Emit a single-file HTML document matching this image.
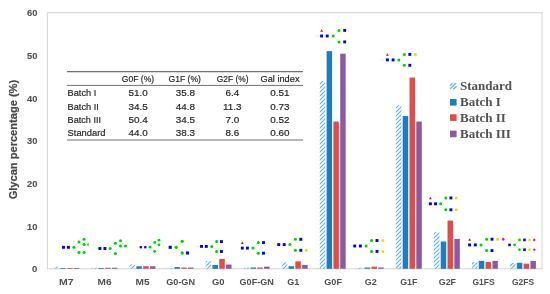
<!DOCTYPE html><html><head><meta charset="utf-8"><style>html,body{margin:0;padding:0;background:#fff;}svg{display:block;}</style></head><body>
<svg width="550" height="294" viewBox="0 0 550 294">
<defs><pattern id="h" patternUnits="userSpaceOnUse" width="4.0" height="4.0"><path d="M-1,1 L1,-1 M0,4.0 L4.0,0 M3.0,5.0 L5.0,3.0" stroke="#5db3ea" stroke-width="1.15"/></pattern><clipPath id="lc"><rect x="450" y="83" width="6.6" height="6.6"/></clipPath></defs>
<rect width="550" height="294" fill="#fff"/>
<rect x="47.4" y="12.7" width="494.6" height="256.1" fill="none" stroke="#d2d2d2" stroke-width="1"/>
<text x="37.4" y="272.2" text-anchor="end" font-family="Liberation Sans" font-weight="bold" font-size="9.8" fill="#505050" stroke="#505050" stroke-width="0.1" textLength="5.3" lengthAdjust="spacingAndGlyphs">0</text>
<text x="37.4" y="229.5" text-anchor="end" font-family="Liberation Sans" font-weight="bold" font-size="9.8" fill="#505050" stroke="#505050" stroke-width="0.1" textLength="10.4" lengthAdjust="spacingAndGlyphs">10</text>
<text x="37.4" y="186.8" text-anchor="end" font-family="Liberation Sans" font-weight="bold" font-size="9.8" fill="#505050" stroke="#505050" stroke-width="0.1" textLength="10.4" lengthAdjust="spacingAndGlyphs">20</text>
<text x="37.4" y="144.2" text-anchor="end" font-family="Liberation Sans" font-weight="bold" font-size="9.8" fill="#505050" stroke="#505050" stroke-width="0.1" textLength="10.4" lengthAdjust="spacingAndGlyphs">30</text>
<text x="37.4" y="101.5" text-anchor="end" font-family="Liberation Sans" font-weight="bold" font-size="9.8" fill="#505050" stroke="#505050" stroke-width="0.1" textLength="10.4" lengthAdjust="spacingAndGlyphs">40</text>
<text x="37.4" y="58.8" text-anchor="end" font-family="Liberation Sans" font-weight="bold" font-size="9.8" fill="#505050" stroke="#505050" stroke-width="0.1" textLength="10.4" lengthAdjust="spacingAndGlyphs">50</text>
<text x="37.4" y="16.1" text-anchor="end" font-family="Liberation Sans" font-weight="bold" font-size="9.8" fill="#505050" stroke="#505050" stroke-width="0.1" textLength="10.4" lengthAdjust="spacingAndGlyphs">60</text>
<text transform="translate(16.6,139.6) rotate(-90)" text-anchor="middle" font-family="Liberation Sans" font-weight="bold" font-size="11" fill="#474747" stroke="#474747" stroke-width="0.2" textLength="119.5" lengthAdjust="spacingAndGlyphs">Glycan percentage (%)</text>
<rect x="53.47" y="266.67" width="5.5" height="2.13" fill="url(#h)"/>
<rect x="60.27" y="268.03" width="5.5" height="0.77" fill="#217bbf"/>
<rect x="67.07" y="268.03" width="5.5" height="0.77" fill="#e04b4b"/>
<rect x="73.87" y="268.03" width="5.5" height="0.77" fill="#885ca4"/>
<rect x="91.52" y="267.73" width="5.5" height="1.07" fill="url(#h)"/>
<rect x="98.32" y="267.95" width="5.5" height="0.85" fill="#217bbf"/>
<rect x="105.12" y="267.73" width="5.5" height="1.07" fill="#e04b4b"/>
<rect x="111.92" y="267.73" width="5.5" height="1.07" fill="#885ca4"/>
<rect x="129.57" y="264.53" width="5.5" height="4.27" fill="url(#h)"/>
<rect x="136.37" y="266.24" width="5.5" height="2.56" fill="#217bbf"/>
<rect x="143.17" y="266.24" width="5.5" height="2.56" fill="#e04b4b"/>
<rect x="149.97" y="266.24" width="5.5" height="2.56" fill="#885ca4"/>
<rect x="167.61" y="268.16" width="5.5" height="0.64" fill="url(#h)"/>
<rect x="174.41" y="267.09" width="5.5" height="1.71" fill="#217bbf"/>
<rect x="181.21" y="267.52" width="5.5" height="1.28" fill="#e04b4b"/>
<rect x="188.01" y="267.52" width="5.5" height="1.28" fill="#885ca4"/>
<rect x="205.66" y="260.90" width="5.5" height="7.90" fill="url(#h)"/>
<rect x="212.46" y="264.96" width="5.5" height="3.84" fill="#217bbf"/>
<rect x="219.26" y="258.98" width="5.5" height="9.82" fill="#e04b4b"/>
<rect x="226.06" y="264.53" width="5.5" height="4.27" fill="#885ca4"/>
<rect x="243.70" y="267.52" width="5.5" height="1.28" fill="url(#h)"/>
<rect x="250.50" y="267.52" width="5.5" height="1.28" fill="#217bbf"/>
<rect x="257.30" y="267.52" width="5.5" height="1.28" fill="#e04b4b"/>
<rect x="264.10" y="266.67" width="5.5" height="2.13" fill="#885ca4"/>
<rect x="281.75" y="262.40" width="5.5" height="6.40" fill="url(#h)"/>
<rect x="288.55" y="266.24" width="5.5" height="2.56" fill="#217bbf"/>
<rect x="295.35" y="261.33" width="5.5" height="7.47" fill="#e04b4b"/>
<rect x="302.15" y="264.96" width="5.5" height="3.84" fill="#885ca4"/>
<rect x="319.80" y="80.99" width="5.5" height="187.81" fill="url(#h)"/>
<rect x="326.60" y="51.12" width="5.5" height="217.69" fill="#217bbf"/>
<rect x="333.40" y="121.54" width="5.5" height="147.26" fill="#e04b4b"/>
<rect x="340.20" y="53.68" width="5.5" height="215.12" fill="#885ca4"/>
<rect x="357.84" y="267.52" width="5.5" height="1.28" fill="url(#h)"/>
<rect x="364.64" y="267.52" width="5.5" height="1.28" fill="#217bbf"/>
<rect x="371.44" y="266.67" width="5.5" height="2.13" fill="#e04b4b"/>
<rect x="378.24" y="267.52" width="5.5" height="1.28" fill="#885ca4"/>
<rect x="395.89" y="105.32" width="5.5" height="163.48" fill="url(#h)"/>
<rect x="402.69" y="115.99" width="5.5" height="152.81" fill="#217bbf"/>
<rect x="409.49" y="77.58" width="5.5" height="191.22" fill="#e04b4b"/>
<rect x="416.29" y="121.54" width="5.5" height="147.26" fill="#885ca4"/>
<rect x="433.93" y="232.09" width="5.5" height="36.71" fill="url(#h)"/>
<rect x="440.73" y="241.48" width="5.5" height="27.32" fill="#217bbf"/>
<rect x="447.53" y="220.57" width="5.5" height="48.23" fill="#e04b4b"/>
<rect x="454.33" y="238.92" width="5.5" height="29.88" fill="#885ca4"/>
<rect x="471.98" y="261.97" width="5.5" height="6.83" fill="url(#h)"/>
<rect x="478.78" y="260.90" width="5.5" height="7.90" fill="#217bbf"/>
<rect x="485.58" y="261.97" width="5.5" height="6.83" fill="#e04b4b"/>
<rect x="492.38" y="260.90" width="5.5" height="7.90" fill="#885ca4"/>
<rect x="510.03" y="262.82" width="5.5" height="5.98" fill="url(#h)"/>
<rect x="516.83" y="262.82" width="5.5" height="5.98" fill="#217bbf"/>
<rect x="523.63" y="263.68" width="5.5" height="5.12" fill="#e04b4b"/>
<rect x="530.43" y="260.90" width="5.5" height="7.90" fill="#885ca4"/>
<text x="66.4" y="284.9" text-anchor="middle" font-family="Liberation Sans" font-weight="bold" font-size="9.9" fill="#505050" textLength="14.7" lengthAdjust="spacingAndGlyphs">M7</text>
<text x="104.5" y="284.9" text-anchor="middle" font-family="Liberation Sans" font-weight="bold" font-size="9.9" fill="#505050" textLength="14.0" lengthAdjust="spacingAndGlyphs">M6</text>
<text x="142.5" y="284.9" text-anchor="middle" font-family="Liberation Sans" font-weight="bold" font-size="9.9" fill="#505050" textLength="14.0" lengthAdjust="spacingAndGlyphs">M5</text>
<text x="180.6" y="284.9" text-anchor="middle" font-family="Liberation Sans" font-weight="bold" font-size="9.9" fill="#505050" textLength="28.8" lengthAdjust="spacingAndGlyphs">G0-GN</text>
<text x="218.2" y="284.9" text-anchor="middle" font-family="Liberation Sans" font-weight="bold" font-size="9.9" fill="#505050" textLength="12.6" lengthAdjust="spacingAndGlyphs">G0</text>
<text x="256.7" y="284.9" text-anchor="middle" font-family="Liberation Sans" font-weight="bold" font-size="9.9" fill="#505050" textLength="34.3" lengthAdjust="spacingAndGlyphs">G0F-GN</text>
<text x="293.2" y="284.9" text-anchor="middle" font-family="Liberation Sans" font-weight="bold" font-size="9.9" fill="#505050" textLength="12.0" lengthAdjust="spacingAndGlyphs">G1</text>
<text x="333.1" y="284.9" text-anchor="middle" font-family="Liberation Sans" font-weight="bold" font-size="9.9" fill="#505050" textLength="17.7" lengthAdjust="spacingAndGlyphs">G0F</text>
<text x="370.8" y="284.9" text-anchor="middle" font-family="Liberation Sans" font-weight="bold" font-size="9.9" fill="#505050" textLength="12.0" lengthAdjust="spacingAndGlyphs">G2</text>
<text x="408.8" y="284.9" text-anchor="middle" font-family="Liberation Sans" font-weight="bold" font-size="9.9" fill="#505050" textLength="17.2" lengthAdjust="spacingAndGlyphs">G1F</text>
<text x="447.4" y="284.9" text-anchor="middle" font-family="Liberation Sans" font-weight="bold" font-size="9.9" fill="#505050" textLength="17.4" lengthAdjust="spacingAndGlyphs">G2F</text>
<text x="483.6" y="284.9" text-anchor="middle" font-family="Liberation Sans" font-weight="bold" font-size="9.9" fill="#505050" textLength="22.3" lengthAdjust="spacingAndGlyphs">G1FS</text>
<text x="523.0" y="284.9" text-anchor="middle" font-family="Liberation Sans" font-weight="bold" font-size="9.9" fill="#505050" textLength="22.0" lengthAdjust="spacingAndGlyphs">G2FS</text>
<line x1="58.20" y1="247.30" x2="63.50" y2="247.30" stroke="#dcdcdc" stroke-width="0.6"/>
<line x1="73.90" y1="247.30" x2="79.00" y2="241.90" stroke="#dcdcdc" stroke-width="0.6"/>
<line x1="79.00" y1="241.90" x2="84.10" y2="239.30" stroke="#dcdcdc" stroke-width="0.6"/>
<line x1="79.00" y1="241.90" x2="84.10" y2="244.60" stroke="#dcdcdc" stroke-width="0.6"/>
<line x1="84.10" y1="244.60" x2="88.70" y2="244.60" stroke="#dcdcdc" stroke-width="0.6"/>
<line x1="73.90" y1="247.30" x2="79.00" y2="252.40" stroke="#dcdcdc" stroke-width="0.6"/>
<line x1="79.00" y1="252.40" x2="84.10" y2="252.40" stroke="#dcdcdc" stroke-width="0.6"/>
<rect x="62.05" y="245.85" width="2.9" height="2.9" fill="#0000e0"/>
<rect x="66.95" y="245.85" width="2.9" height="2.9" fill="#0000e0"/>
<circle cx="73.90" cy="247.30" r="1.5" fill="#00d000"/>
<circle cx="79.00" cy="241.90" r="1.5" fill="#00d000"/>
<circle cx="84.10" cy="239.30" r="1.5" fill="#00d000"/>
<circle cx="84.10" cy="244.60" r="1.5" fill="#00d000"/>
<path d="M88.70,243.10 A1.5,1.5 0 0,0 88.70,246.10 Z" fill="#00d000"/>
<circle cx="79.00" cy="252.40" r="1.5" fill="#00d000"/>
<circle cx="84.10" cy="252.40" r="1.5" fill="#00d000"/>
<line x1="95.50" y1="248.50" x2="99.90" y2="248.50" stroke="#dcdcdc" stroke-width="0.6"/>
<line x1="110.20" y1="248.50" x2="115.40" y2="243.30" stroke="#dcdcdc" stroke-width="0.6"/>
<line x1="115.40" y1="243.30" x2="120.50" y2="240.70" stroke="#dcdcdc" stroke-width="0.6"/>
<line x1="115.40" y1="243.30" x2="120.50" y2="245.90" stroke="#dcdcdc" stroke-width="0.6"/>
<line x1="120.50" y1="245.90" x2="125.50" y2="245.90" stroke="#dcdcdc" stroke-width="0.6"/>
<line x1="110.20" y1="248.50" x2="115.40" y2="253.50" stroke="#dcdcdc" stroke-width="0.6"/>
<rect x="98.45" y="247.05" width="2.9" height="2.9" fill="#0000e0"/>
<rect x="103.45" y="247.05" width="2.9" height="2.9" fill="#0000e0"/>
<circle cx="110.20" cy="248.50" r="1.5" fill="#00d000"/>
<circle cx="115.40" cy="243.30" r="1.5" fill="#00d000"/>
<circle cx="120.50" cy="240.70" r="1.5" fill="#00d000"/>
<circle cx="120.50" cy="245.90" r="1.5" fill="#00d000"/>
<circle cx="125.50" cy="245.90" r="1.5" fill="#00d000"/>
<circle cx="115.40" cy="253.50" r="1.5" fill="#00d000"/>
<line x1="136.90" y1="247.20" x2="140.80" y2="247.20" stroke="#dcdcdc" stroke-width="0.6"/>
<line x1="150.10" y1="247.20" x2="154.70" y2="242.40" stroke="#dcdcdc" stroke-width="0.6"/>
<line x1="154.70" y1="242.40" x2="159.00" y2="240.20" stroke="#dcdcdc" stroke-width="0.6"/>
<line x1="154.70" y1="242.40" x2="159.00" y2="244.80" stroke="#dcdcdc" stroke-width="0.6"/>
<line x1="150.10" y1="247.20" x2="154.70" y2="251.30" stroke="#dcdcdc" stroke-width="0.6"/>
<rect x="139.67" y="246.07" width="2.26" height="2.26" fill="#0000e0"/>
<rect x="144.17" y="246.07" width="2.26" height="2.26" fill="#0000e0"/>
<circle cx="150.10" cy="247.20" r="1.42" fill="#00d000"/>
<circle cx="154.70" cy="242.40" r="1.42" fill="#00d000"/>
<circle cx="159.00" cy="240.20" r="1.42" fill="#00d000"/>
<circle cx="159.00" cy="244.80" r="1.42" fill="#00d000"/>
<circle cx="154.70" cy="251.30" r="1.42" fill="#00d000"/>
<line x1="176.20" y1="247.30" x2="182.20" y2="241.30" stroke="#dcdcdc" stroke-width="0.6"/>
<line x1="176.20" y1="247.30" x2="182.20" y2="253.00" stroke="#dcdcdc" stroke-width="0.6"/>
<rect x="168.66" y="245.77" width="3.07" height="3.07" fill="#0000e0"/>
<circle cx="176.20" cy="247.30" r="1.65" fill="#00d000"/>
<circle cx="182.20" cy="241.30" r="1.65" fill="#00d000"/>
<circle cx="182.20" cy="253.00" r="1.65" fill="#00d000"/>
<rect x="185.97" y="251.47" width="3.07" height="3.07" fill="#0000e0"/>
<line x1="196.30" y1="246.40" x2="201.50" y2="246.40" stroke="#dcdcdc" stroke-width="0.6"/>
<line x1="211.80" y1="246.40" x2="216.70" y2="241.60" stroke="#dcdcdc" stroke-width="0.6"/>
<line x1="211.80" y1="246.40" x2="216.70" y2="251.50" stroke="#dcdcdc" stroke-width="0.6"/>
<rect x="200.05" y="244.95" width="2.9" height="2.9" fill="#0000e0"/>
<rect x="204.85" y="244.95" width="2.9" height="2.9" fill="#0000e0"/>
<circle cx="211.80" cy="246.40" r="1.5" fill="#00d000"/>
<circle cx="216.70" cy="241.60" r="1.5" fill="#00d000"/>
<rect x="219.95" y="240.15" width="2.9" height="2.9" fill="#0000e0"/>
<circle cx="216.70" cy="251.50" r="1.5" fill="#00d000"/>
<rect x="219.95" y="250.05" width="2.9" height="2.9" fill="#0000e0"/>
<line x1="253.00" y1="248.10" x2="258.30" y2="242.60" stroke="#dcdcdc" stroke-width="0.6"/>
<line x1="253.00" y1="248.10" x2="258.30" y2="253.20" stroke="#dcdcdc" stroke-width="0.6"/>
<path d="M240.90,244.06 L243.70,244.06 L242.30,241.54Z" fill="#e00000"/>
<rect x="240.85" y="246.65" width="2.9" height="2.9" fill="#0000e0"/>
<rect x="245.95" y="246.65" width="2.9" height="2.9" fill="#0000e0"/>
<circle cx="253.00" cy="248.10" r="1.5" fill="#00d000"/>
<circle cx="258.30" cy="242.60" r="1.5" fill="#00d000"/>
<rect x="262.05" y="241.15" width="2.9" height="2.9" fill="#0000e0"/>
<circle cx="258.30" cy="253.20" r="1.5" fill="#00d000"/>
<rect x="262.05" y="251.75" width="2.9" height="2.9" fill="#0000e0"/>
<line x1="273.50" y1="244.60" x2="278.70" y2="244.60" stroke="#dcdcdc" stroke-width="0.6"/>
<line x1="289.90" y1="244.60" x2="295.40" y2="239.30" stroke="#dcdcdc" stroke-width="0.6"/>
<line x1="289.90" y1="244.60" x2="295.40" y2="250.30" stroke="#dcdcdc" stroke-width="0.6"/>
<rect x="277.25" y="243.15" width="2.9" height="2.9" fill="#0000e0"/>
<rect x="282.75" y="243.15" width="2.9" height="2.9" fill="#0000e0"/>
<circle cx="289.90" cy="244.60" r="1.5" fill="#00d000"/>
<circle cx="295.40" cy="239.30" r="1.5" fill="#00d000"/>
<rect x="299.35" y="237.85" width="2.9" height="2.9" fill="#0000e0"/>
<circle cx="295.40" cy="250.30" r="1.5" fill="#00d000"/>
<rect x="299.35" y="248.85" width="2.9" height="2.9" fill="#0000e0"/>
<circle cx="306.30" cy="250.30" r="1.5" fill="#e8e000"/>
<line x1="315.10" y1="36.00" x2="321.60" y2="36.00" stroke="#dcdcdc" stroke-width="0.6"/>
<line x1="333.20" y1="36.00" x2="339.00" y2="30.40" stroke="#dcdcdc" stroke-width="0.6"/>
<line x1="333.20" y1="36.00" x2="339.00" y2="41.90" stroke="#dcdcdc" stroke-width="0.6"/>
<path d="M320.20,31.86 L323.00,31.86 L321.60,29.34Z" fill="#e00000"/>
<rect x="320.15" y="34.55" width="2.9" height="2.9" fill="#0000e0"/>
<rect x="325.75" y="34.55" width="2.9" height="2.9" fill="#0000e0"/>
<circle cx="333.20" cy="36.00" r="1.5" fill="#00d000"/>
<circle cx="339.00" cy="30.40" r="1.5" fill="#00d000"/>
<rect x="343.25" y="28.95" width="2.9" height="2.9" fill="#0000e0"/>
<circle cx="339.00" cy="41.90" r="1.5" fill="#00d000"/>
<rect x="343.25" y="40.45" width="2.9" height="2.9" fill="#0000e0"/>
<line x1="349.40" y1="246.00" x2="354.70" y2="246.00" stroke="#dcdcdc" stroke-width="0.6"/>
<line x1="366.10" y1="246.00" x2="371.60" y2="240.50" stroke="#dcdcdc" stroke-width="0.6"/>
<line x1="366.10" y1="246.00" x2="371.60" y2="251.40" stroke="#dcdcdc" stroke-width="0.6"/>
<rect x="353.25" y="244.55" width="2.9" height="2.9" fill="#0000e0"/>
<rect x="358.95" y="244.55" width="2.9" height="2.9" fill="#0000e0"/>
<circle cx="366.10" cy="246.00" r="1.5" fill="#00d000"/>
<circle cx="371.60" cy="240.50" r="1.5" fill="#00d000"/>
<rect x="375.55" y="239.05" width="2.9" height="2.9" fill="#0000e0"/>
<circle cx="382.80" cy="240.50" r="1.5" fill="#e8e000"/>
<circle cx="371.60" cy="251.40" r="1.5" fill="#00d000"/>
<rect x="375.55" y="249.95" width="2.9" height="2.9" fill="#0000e0"/>
<circle cx="382.80" cy="251.40" r="1.5" fill="#e8e000"/>
<line x1="379.70" y1="59.90" x2="387.40" y2="59.90" stroke="#dcdcdc" stroke-width="0.6"/>
<line x1="398.80" y1="59.90" x2="404.30" y2="54.40" stroke="#dcdcdc" stroke-width="0.6"/>
<line x1="398.80" y1="59.90" x2="404.30" y2="65.30" stroke="#dcdcdc" stroke-width="0.6"/>
<path d="M386.00,55.66 L388.80,55.66 L387.40,53.14Z" fill="#e00000"/>
<rect x="385.95" y="58.45" width="2.9" height="2.9" fill="#0000e0"/>
<rect x="391.65" y="58.45" width="2.9" height="2.9" fill="#0000e0"/>
<circle cx="398.80" cy="59.90" r="1.5" fill="#00d000"/>
<circle cx="404.30" cy="54.40" r="1.5" fill="#00d000"/>
<rect x="408.35" y="52.95" width="2.9" height="2.9" fill="#0000e0"/>
<circle cx="415.50" cy="54.40" r="1.5" fill="#e8e000"/>
<circle cx="404.30" cy="65.30" r="1.5" fill="#00d000"/>
<rect x="408.35" y="63.85" width="2.9" height="2.9" fill="#0000e0"/>
<line x1="425.30" y1="203.80" x2="430.40" y2="203.80" stroke="#dcdcdc" stroke-width="0.6"/>
<line x1="440.60" y1="203.80" x2="445.80" y2="197.90" stroke="#dcdcdc" stroke-width="0.6"/>
<line x1="440.60" y1="203.80" x2="445.80" y2="209.80" stroke="#dcdcdc" stroke-width="0.6"/>
<path d="M429.00,199.36 L431.80,199.36 L430.40,196.84Z" fill="#e00000"/>
<rect x="428.95" y="202.35" width="2.9" height="2.9" fill="#0000e0"/>
<rect x="434.05" y="202.35" width="2.9" height="2.9" fill="#0000e0"/>
<circle cx="440.60" cy="203.80" r="1.5" fill="#00d000"/>
<circle cx="445.80" cy="197.90" r="1.5" fill="#00d000"/>
<rect x="449.45" y="196.45" width="2.9" height="2.9" fill="#0000e0"/>
<circle cx="456.10" cy="197.90" r="1.5" fill="#e8e000"/>
<circle cx="445.80" cy="209.80" r="1.5" fill="#00d000"/>
<rect x="449.45" y="208.35" width="2.9" height="2.9" fill="#0000e0"/>
<circle cx="456.10" cy="209.80" r="1.5" fill="#e8e000"/>
<line x1="464.40" y1="244.90" x2="469.60" y2="244.90" stroke="#dcdcdc" stroke-width="0.6"/>
<line x1="481.00" y1="244.90" x2="486.60" y2="239.20" stroke="#dcdcdc" stroke-width="0.6"/>
<line x1="481.00" y1="244.90" x2="486.60" y2="250.60" stroke="#dcdcdc" stroke-width="0.6"/>
<path d="M468.20,240.86 L471.00,240.86 L469.60,238.34Z" fill="#e00000"/>
<rect x="468.15" y="243.45" width="2.9" height="2.9" fill="#0000e0"/>
<rect x="473.85" y="243.45" width="2.9" height="2.9" fill="#0000e0"/>
<circle cx="481.00" cy="244.90" r="1.5" fill="#00d000"/>
<circle cx="486.60" cy="239.20" r="1.5" fill="#00d000"/>
<rect x="490.55" y="237.75" width="2.9" height="2.9" fill="#0000e0"/>
<circle cx="497.50" cy="239.20" r="1.5" fill="#e8e000"/>
<path d="M501.50,239.20 L503.20,237.50 L504.90,239.20 L503.20,240.90Z" fill="#f000f0"/>
<circle cx="486.60" cy="250.60" r="1.5" fill="#00d000"/>
<rect x="490.55" y="249.15" width="2.9" height="2.9" fill="#0000e0"/>
<line x1="514.60" y1="244.90" x2="519.50" y2="239.90" stroke="#dcdcdc" stroke-width="0.6"/>
<line x1="514.60" y1="244.90" x2="519.50" y2="249.70" stroke="#dcdcdc" stroke-width="0.6"/>
<rect x="508.19" y="243.59" width="2.61" height="2.61" fill="#0000e0"/>
<circle cx="514.60" cy="244.90" r="1.35" fill="#00d000"/>
<circle cx="519.50" cy="239.90" r="1.35" fill="#00d000"/>
<rect x="523.20" y="238.59" width="2.61" height="2.61" fill="#0000e0"/>
<circle cx="529.50" cy="239.90" r="1.35" fill="#e8e000"/>
<path d="M532.77,239.90 L534.30,238.37 L535.83,239.90 L534.30,241.43Z" fill="#f000f0"/>
<circle cx="519.50" cy="249.70" r="1.35" fill="#00d000"/>
<rect x="523.20" y="248.39" width="2.61" height="2.61" fill="#0000e0"/>
<circle cx="529.50" cy="249.70" r="1.35" fill="#e8e000"/>
<path d="M532.77,249.70 L534.30,248.17 L535.83,249.70 L534.30,251.23Z" fill="#f000f0"/>
<line x1="66.9" y1="71.7" x2="303" y2="71.7" stroke="#707070" stroke-width="1.2"/>
<line x1="66.9" y1="85.4" x2="303" y2="85.4" stroke="#707070" stroke-width="1"/>
<line x1="66.9" y1="140" x2="303" y2="140" stroke="#707070" stroke-width="1.2"/>
<text x="138" y="82.2" text-anchor="middle" font-family="Liberation Sans" font-size="9.9" fill="#262626" stroke="#262626" stroke-width="0.2" textLength="32.4" lengthAdjust="spacingAndGlyphs">G0F (%)</text>
<text x="184.7" y="82.2" text-anchor="middle" font-family="Liberation Sans" font-size="9.9" fill="#262626" stroke="#262626" stroke-width="0.2" textLength="32.4" lengthAdjust="spacingAndGlyphs">G1F (%)</text>
<text x="232.7" y="82.2" text-anchor="middle" font-family="Liberation Sans" font-size="9.9" fill="#262626" stroke="#262626" stroke-width="0.2" textLength="31.8" lengthAdjust="spacingAndGlyphs">G2F (%)</text>
<text x="280" y="82.2" text-anchor="middle" font-family="Liberation Sans" font-size="9.9" fill="#262626" stroke="#262626" stroke-width="0.2" textLength="39" lengthAdjust="spacingAndGlyphs">Gal index</text>
<text x="67.6" y="95.9" font-family="Liberation Sans" font-size="9.9" fill="#262626" stroke="#262626" stroke-width="0.2" textLength="28.6" lengthAdjust="spacingAndGlyphs">Batch I</text>
<text x="138.2" y="95.9" text-anchor="middle" font-family="Liberation Sans" font-size="9.9" fill="#262626" stroke="#262626" stroke-width="0.2">51.0</text>
<text x="185.3" y="95.9" text-anchor="middle" font-family="Liberation Sans" font-size="9.9" fill="#262626" stroke="#262626" stroke-width="0.2">35.8</text>
<text x="232.3" y="95.9" text-anchor="middle" font-family="Liberation Sans" font-size="9.9" fill="#262626" stroke="#262626" stroke-width="0.2">6.4</text>
<text x="279.8" y="95.9" text-anchor="middle" font-family="Liberation Sans" font-size="9.9" fill="#262626" stroke="#262626" stroke-width="0.2">0.51</text>
<text x="67.6" y="109.5" font-family="Liberation Sans" font-size="9.9" fill="#262626" stroke="#262626" stroke-width="0.2" textLength="31.2" lengthAdjust="spacingAndGlyphs">Batch II</text>
<text x="138.2" y="109.5" text-anchor="middle" font-family="Liberation Sans" font-size="9.9" fill="#262626" stroke="#262626" stroke-width="0.2">34.5</text>
<text x="185.3" y="109.5" text-anchor="middle" font-family="Liberation Sans" font-size="9.9" fill="#262626" stroke="#262626" stroke-width="0.2">44.8</text>
<text x="232.3" y="109.5" text-anchor="middle" font-family="Liberation Sans" font-size="9.9" fill="#262626" stroke="#262626" stroke-width="0.2">11.3</text>
<text x="279.8" y="109.5" text-anchor="middle" font-family="Liberation Sans" font-size="9.9" fill="#262626" stroke="#262626" stroke-width="0.2">0.73</text>
<text x="67.6" y="123.0" font-family="Liberation Sans" font-size="9.9" fill="#262626" stroke="#262626" stroke-width="0.2" textLength="33.4" lengthAdjust="spacingAndGlyphs">Batch III</text>
<text x="138.2" y="123.0" text-anchor="middle" font-family="Liberation Sans" font-size="9.9" fill="#262626" stroke="#262626" stroke-width="0.2">50.4</text>
<text x="185.3" y="123.0" text-anchor="middle" font-family="Liberation Sans" font-size="9.9" fill="#262626" stroke="#262626" stroke-width="0.2">34.5</text>
<text x="232.3" y="123.0" text-anchor="middle" font-family="Liberation Sans" font-size="9.9" fill="#262626" stroke="#262626" stroke-width="0.2">7.0</text>
<text x="279.8" y="123.0" text-anchor="middle" font-family="Liberation Sans" font-size="9.9" fill="#262626" stroke="#262626" stroke-width="0.2">0.52</text>
<text x="67.6" y="136.4" font-family="Liberation Sans" font-size="9.9" fill="#262626" stroke="#262626" stroke-width="0.2" textLength="37.9" lengthAdjust="spacingAndGlyphs">Standard</text>
<text x="138.2" y="136.4" text-anchor="middle" font-family="Liberation Sans" font-size="9.9" fill="#262626" stroke="#262626" stroke-width="0.2">44.0</text>
<text x="185.3" y="136.4" text-anchor="middle" font-family="Liberation Sans" font-size="9.9" fill="#262626" stroke="#262626" stroke-width="0.2">38.3</text>
<text x="232.3" y="136.4" text-anchor="middle" font-family="Liberation Sans" font-size="9.9" fill="#262626" stroke="#262626" stroke-width="0.2">8.6</text>
<text x="279.8" y="136.4" text-anchor="middle" font-family="Liberation Sans" font-size="9.9" fill="#262626" stroke="#262626" stroke-width="0.2">0.60</text>
<g stroke="#5db3ea" stroke-width="1.3"><line x1="450.2" y1="85.5" x2="452.4" y2="83.3"/><line x1="450.2" y1="88.8" x2="456.1" y2="83.1"/><line x1="453.3" y1="89.3" x2="456.6" y2="86.2"/></g>
<text x="460" y="90.0" font-family="Liberation Serif" font-weight="bold" font-size="13" fill="#525252">Standard</text>
<rect x="450" y="99.0" width="6.6" height="6.6" fill="#217bbf"/>
<text x="460" y="106.1" font-family="Liberation Serif" font-weight="bold" font-size="13" fill="#525252">Batch I</text>
<rect x="450" y="114.3" width="6.6" height="6.6" fill="#e04b4b"/>
<text x="460" y="121.8" font-family="Liberation Serif" font-weight="bold" font-size="13" fill="#525252">Batch II</text>
<rect x="450" y="130.6" width="6.6" height="6.6" fill="#885ca4"/>
<text x="460" y="137.8" font-family="Liberation Serif" font-weight="bold" font-size="13" fill="#525252">Batch III</text>
</svg></body></html>
